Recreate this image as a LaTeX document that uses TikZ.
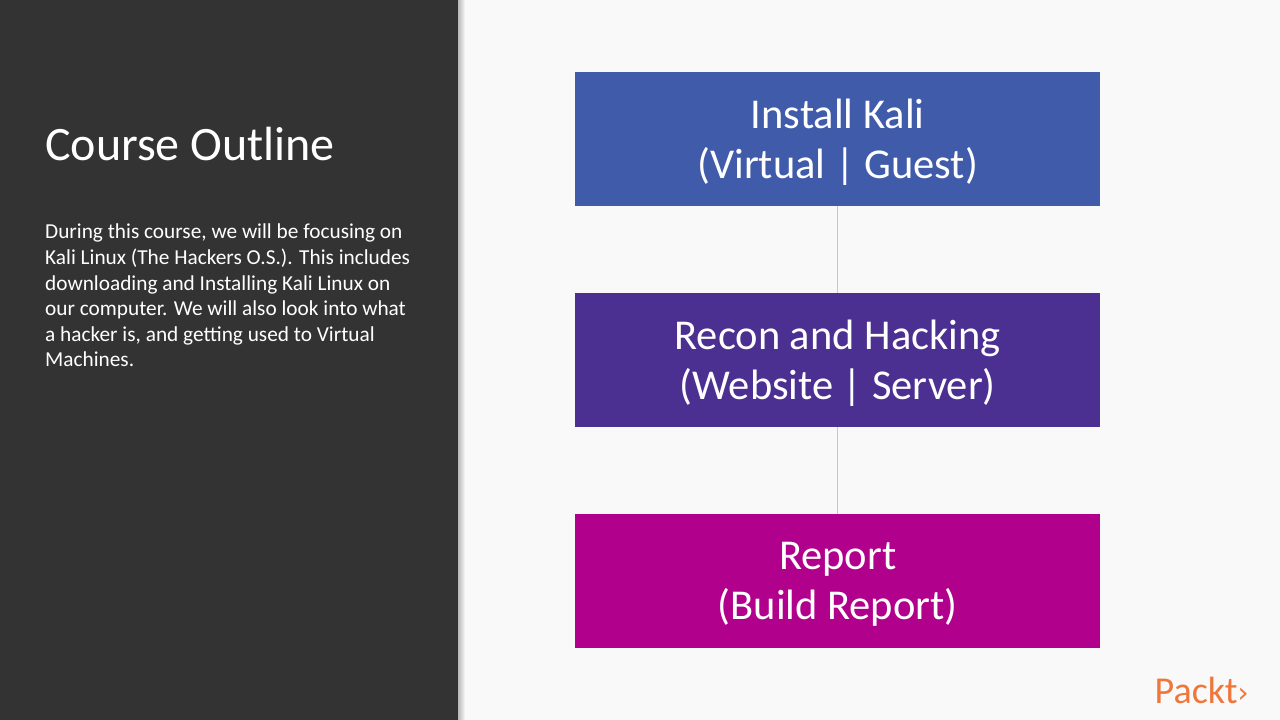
\documentclass[tikz,border=0pt]{standalone}
\usepackage{fontspec}
\setmainfont{Carlito}
\begin{document}
\begin{tikzpicture}[x=1pt,y=-1pt,
  box/.style={draw=none,minimum width=525pt,minimum height=134pt,anchor=north west,text=white,align=center},
  btxt/.style={text=white,align=center,font=\fontsize{42.5}{50.5}\selectfont},
  conn/.style={draw=black!22,line width=0.8pt}]
\definecolor{bA}{HTML}{3F5BA9}\definecolor{bB}{HTML}{4B2F91}\definecolor{bC}{HTML}{B1008B}
\definecolor{packt}{HTML}{F0773B}
\useasboundingbox (0,0) rectangle (1280,720);
\fill[black!2.5] (0,0) rectangle (1280,720);
\foreach \i in {0,...,7}{\fill[black,opacity=0.04] (458,0) rectangle (458+\i,720);}
\fill[black!80] (0,0) rectangle (458,720);
\node[anchor=west,text=white,font=\fontsize{48}{56}\selectfont,inner sep=0pt] (title) at (45,144) {Course Outline};
\node[anchor=north west,text=white,align=left,inner sep=0pt,font=\fontsize{21.3}{25.6}\selectfont] (body) at (45,224)
 {During this course, we will be focusing on\\Kali Linux (The Hackers O.S.). This includes\\downloading and Installing Kali Linux on\\our computer. We will also look into what\\a hacker is, and getting used to Virtual\\Machines.};
\node[box,fill=bA] (a) at (575,72) {};
\node[box,fill=bB] (b) at (575,293) {};
\node[box,fill=bC] (c) at (575,514) {};
\node[btxt] (ta) at ([yshift=-3pt]a.center) {Install Kali\\(Virtual | Guest)};
\node[btxt] (tb) at ([yshift=-3pt]b.center) {Recon and Hacking\\(Website | Server)};
\node[btxt] (tc) at ([yshift=-3pt]c.center) {Report\\(Build Report)};
\draw[conn] (a.south) -- (b.north);
\draw[conn] (b.south) -- (c.north);
\node[anchor=east,text=packt,font=\fontsize{38}{38}\selectfont,inner sep=0pt] (logo) at (1249,690) {Packt\raisebox{1pt}{\fontspec{DejaVu Sans}\fontsize{28}{28}\selectfont ›}};
\end{tikzpicture}
\end{document}
